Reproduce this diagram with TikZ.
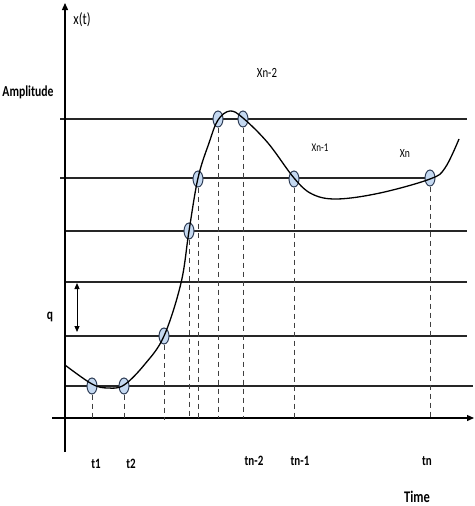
\documentclass[tikz,border=0pt]{standalone}
\usepackage{fontspec}
\setmainfont{Carlito}
\usetikzlibrary{arrows.meta,shapes.geometric}
\definecolor{ptfill}{RGB}{197,217,241}
\definecolor{ptedge}{RGB}{45,60,85}
\begin{document}
\begin{tikzpicture}[x=1pt,y=-1pt,
  grid/.style={draw=black!85,line width=1.6pt},
  axis/.style={draw=black,line width=1.3pt,-{Triangle[length=7pt,width=6pt]}},
  guide/.style={draw=black!75,line width=1pt,dash pattern=on 5pt off 4pt},
  curve/.style={draw=black,line width=1.3pt},
  sample/.style={ellipse,draw=ptedge,fill=ptfill,line width=1pt,minimum width=10pt,minimum height=16pt,inner sep=0pt},
  lab/.style={font=\fontsize{11}{12}\selectfont\bfseries,inner sep=0pt},
  small/.style={font=\fontsize{10}{12}\selectfont,inner sep=0pt}]
\useasboundingbox (0,0) rectangle (474,506);
% grid lines
\draw[grid] (60,119) -- (467,119);
\draw[grid] (60,178) -- (430,178);
\draw[grid] (65,231) -- (467,231);
\draw[grid] (65,282) -- (467,282);
\draw[grid] (65,336) -- (467,336);
\draw[grid] (65,386) -- (473,386);
% axes
\draw[axis] (52,418) -- (474,418);
\draw[axis] (65,452) -- (65,3);
% base coordinates
\coordinate (b1) at (92,418);
\coordinate (b2) at (124,418);
\coordinate (b3) at (164,420);
\coordinate (b4) at (189,418);
\coordinate (b5) at (198,418);
\coordinate (b6) at (218,418);
\coordinate (b7) at (243,418);
\coordinate (b8) at (294,418);
\coordinate (b9) at (430,418);
% samples
\node[sample] (p1) at (92,386) {};
\node[sample] (p2) at (124,386) {};
\node[sample] (p3) at (164,336) {};
\node[sample] (p4) at (189,231) {};
\node[sample] (p5) at (198,179) {};
\node[sample] (p6) at (218,119) {};
\node[sample] (p7) at (243,119) {};
\node[sample] (p8) at (294,179) {};
\node[sample] (p9) at (430,178) {};
\foreach \i in {1,...,9} \draw[guide] (p\i) -- (b\i);
% curve
\draw[curve] plot[smooth,tension=0.6] coordinates {(65,365) (92,384) (108,388) (124,385) (145,364) (164,336) (181,283) (189,231) (198,178) (209,143) (218,120) (230,111) (243,118) (268,143) (294,178) (312,194) (337,199) (380,193) (430,179) (445,168) (459,139)};
% q arrow
\coordinate (qa) at (77,283);
\coordinate (qb) at (77,332);
\draw[line width=1pt,{Triangle[length=6pt,width=5pt]}-{Triangle[length=6pt,width=5pt]}] (qa) -- (qb);
% labels
\node[font=\fontsize{12.5}{14}\selectfont,inner sep=0pt] (xt) at (82,20) {\scalebox{1}[1.3]{x(t)}};
\node[font=\fontsize{11.7}{14}\selectfont\bfseries,inner sep=0pt] (amp) at (28,92) {\scalebox{1}[1.3]{Amplitude}};
\node[font=\fontsize{11.5}{13}\selectfont\bfseries,inner sep=0pt] (q) at (50,317) {\scalebox{1}[1.3]{q}};
\node[small,font=\fontsize{10.8}{13}\selectfont] (xn2) at (267,73) {\scalebox{1}[1.3]{Xn-2}};
\node[small,font=\fontsize{9}{11}\selectfont] (xn1) at (320,148) {\scalebox{1}[1.3]{Xn-1}};
\node[small,font=\fontsize{9.6}{11}\selectfont] (xn) at (405,153) {\scalebox{1}[1.3]{Xn}};
\node[lab] (t1) at (96,464) {\scalebox{1}[1.3]{t1}};
\node[lab] (t2) at (131,464) {\scalebox{1}[1.3]{t2}};
\node[lab] (tn2) at (254,461) {\scalebox{1}[1.3]{tn-2}};
\node[lab] (tn1) at (300,461) {\scalebox{1}[1.3]{tn-1}};
\node[lab] (tn) at (427,461) {\scalebox{1}[1.3]{tn}};
\node[font=\fontsize{12.5}{14}\selectfont\bfseries,inner sep=0pt] (time) at (417,497) {\scalebox{1}[1.3]{Time}};
\end{tikzpicture}
\end{document}
